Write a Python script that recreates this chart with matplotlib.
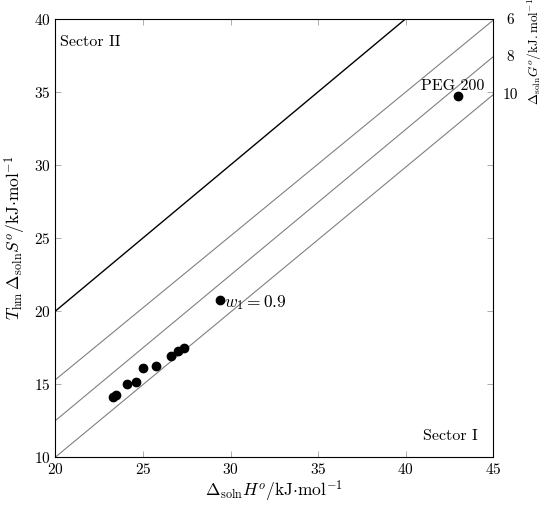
import matplotlib
matplotlib.use("Agg")
from matplotlib import pyplot as plt
import numpy as np

plt.rcParams["font.family"] = "cmr10"
plt.rcParams["mathtext.fontset"] = "cm"
plt.rcParams["axes.formatter.use_mathtext"] = True

# experimental points (dH, T*dS)
dh = [23.27, 23.45, 24.07, 24.58, 25.01, 25.76, 26.58, 27.01, 27.32, 29.39, 42.98]
tds = [14.13, 14.25, 15.00, 15.16, 16.08, 16.25, 16.92, 17.28, 17.49, 20.75, 34.73]

# iso-dG lines, endpoints read at x=20 and x=45
g_labels = ["6", "8", "10"]
g_start = [15.3, 12.5, 10.0]
g_end = [39.9, 37.4, 34.8]
x_ends = [20, 45]

# enthalpy = entropy line
diag_x = [20, 40]
diag_y = [20, 40]

fig = plt.figure(figsize=(5.5, 5.05), dpi=100)
ax = fig.add_axes([0.1009, 0.095, 0.7955, 0.8676])

ax.plot(diag_x, diag_y, color="black", lw=1.0)
for lab, y0, y1 in zip(g_labels, g_start, g_end):
    ax.plot(x_ends, [y0, y1], color="#808080", lw=0.8)
    ax.text(46.0, y1, lab, ha="center", va="center", fontsize=11, clip_on=False)

ax.plot(dh, tds, "o", color="black", ms=6, zorder=5)

ax.text(20.25, 38.4, "Sector II", fontsize=11.5, ha="left", va="center")
ax.text(44.1, 11.4, "Sector I", fontsize=11.5, ha="right", va="center")
ax.text(42.7, 35.4, "PEG 200", fontsize=11.5, ha="center", va="center")
ax.text(29.65, 20.6, r"$w_1 = 0.9$", fontsize=12.5, ha="left", va="center")

ax.set_xlim(20, 45)
ax.set_ylim(10, 40)
ax.set_xticks(np.arange(20, 46, 5))
ax.set_yticks(np.arange(10, 41, 5))
ax.tick_params(direction="in", top=True, right=True, length=4, width=0.6,
               color="#a0a0a0", labelsize=11)
for s in ax.spines.values():
    s.set_linewidth(0.8)

ax.set_xlabel(r"$\Delta_{\rm soln}H^o/{\rm kJ{\cdot}mol}^{-1}$", fontsize=12.5, labelpad=1)
ax.set_ylabel(r"$T_{\rm hm}\,\Delta_{\rm soln}S^o/{\rm kJ{\cdot}mol}^{-1}$", fontsize=12.5, labelpad=4)
fig.text(0.972, 0.897, r"$\Delta_{\rm soln}G^o/{\rm kJ.mol}^{-1}$", rotation=90,
         ha="center", va="center", fontsize=9.5)

fig.savefig("out.png", dpi=100)
